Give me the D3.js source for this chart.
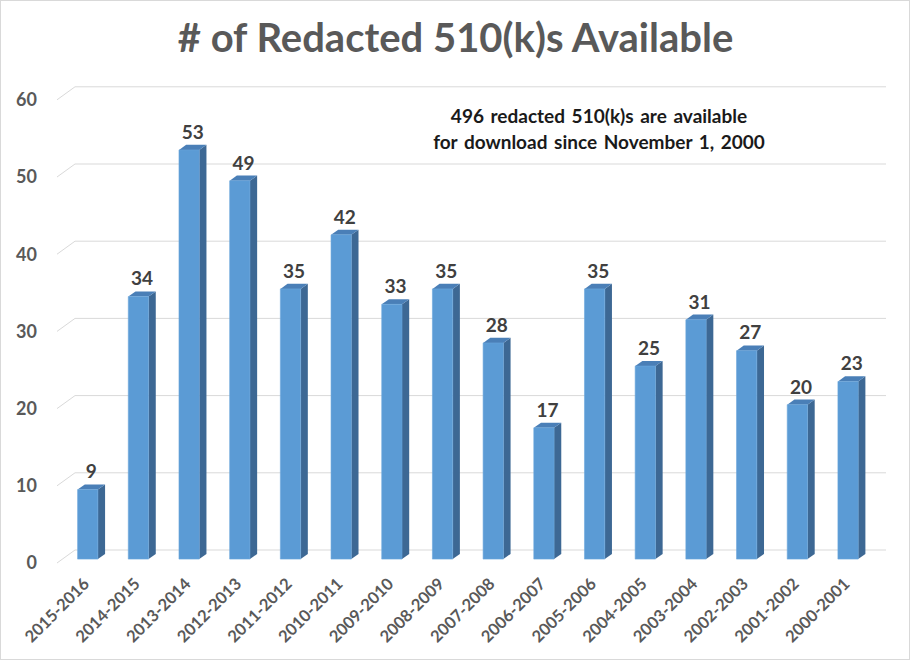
<!DOCTYPE html>
<html>
<head>
<meta charset="utf-8">
<script src="https://cdn.jsdelivr.net/npm/d3@7"></script>
<style>
  body { margin: 0; background: #fff; }
  text { font-family: Lato, 'Open Sans', sans-serif; font-weight: bold; }
</style>
</head>
<body>
<div id="chart"></div>
<script>
const categories = ['2015-2016', '2014-2015', '2013-2014', '2012-2013', '2011-2012', '2010-2011',
  '2009-2010', '2008-2009', '2007-2008', '2006-2007', '2005-2006', '2004-2005',
  '2003-2004', '2002-2003', '2001-2002', '2000-2001']
const counts = [9, 34, 53, 49, 35, 42, 33, 35, 28, 17, 35, 25, 31, 27, 20, 23]
const yTicks = [0, 10, 20, 30, 40, 50, 60]
const title = '# of Redacted 510(k)s Available'
const note = ['496 redacted 510(k)s are available', 'for download since November 1, 2000']

const width = 911
const height = 661
// depth of the 3d box (front floor -> back wall)
const depth = { dx: 18, dy: -13 }
const barFront = 0.3
const barBack = 0.7

const svg = d3.select('#chart').append('svg')
  .attr('width', width)
  .attr('height', height)

svg.append('rect')
  .attr('x', 0.5).attr('y', 0.5)
  .attr('width', width - 2).attr('height', height - 2)
  .attr('fill', '#fff')
  .attr('stroke', '#d9d9d9')

const x = d3.scaleBand()
  .domain(categories)
  .range([57, 868])
  .paddingInner(0.6)
  .paddingOuter(0.3)

const y = d3.scaleLinear()
  .domain([0, 60])
  .range([563, 99.8])

const shift = (px, py, t) => [px + depth.dx * t, py + depth.dy * t]

// back wall gridlines with the little slanted side wall segment
const grid = svg.append('g')
  .attr('stroke', '#d9d9d9')
  .attr('fill', 'none')
yTicks.forEach(t => {
  const [bx, by] = shift(x.range()[0], y(t), 1)
  grid.append('path')
    .attr('d', `M${x.range()[0]},${y(t)}L${bx},${by}L${x.range()[1] + depth.dx},${by}`)
})

svg.append('g')
  .selectAll('text')
  .data(yTicks).enter()
  .append('text')
  .attr('x', 37)
  .attr('y', d => y(d))
  .attr('dy', '0.36em')
  .attr('text-anchor', 'end')
  .attr('font-size', 18)
  .attr('fill', '#595959')
  .text(d => d)

const line = pts => 'M' + pts.map(p => p.join(',')).join('L') + 'Z'

const bar = svg.append('g')
  .selectAll('g')
  .data(categories.map((c, i) => ({ c, v: counts[i] }))).enter()
  .append('g')

bar.each(function (d) {
  const g = d3.select(this)
  const x0 = x(d.c)
  const x1 = x0 + x.bandwidth()
  const yt = y(d.v)
  const yb = y(0)
  const f = (px, py) => shift(px, py, barFront)
  const b = (px, py) => shift(px, py, barBack)
  g.append('path')
    .attr('d', line([f(x1, yb), b(x1, yb), b(x1, yt), f(x1, yt)]))
    .attr('fill', '#3d6894')
  g.append('path')
    .attr('d', line([f(x0, yt), f(x1, yt), b(x1, yt), b(x0, yt)]))
    .attr('fill', '#4a7fb7')
  g.append('path')
    .attr('d', line([f(x0, yb), f(x1, yb), f(x1, yt), f(x0, yt)]))
    .attr('fill', '#5b9bd5')
    .attr('stroke', '#6aa6dc')
    .attr('stroke-width', 0.6)
})

bar.append('text')
  .attr('x', d => x(d.c) + x.bandwidth() / 2 + depth.dx * 0.5)
  .attr('y', d => y(d.v) + depth.dy * barBack - 6)
  .attr('text-anchor', 'middle')
  .attr('font-size', 19)
  .attr('fill', '#404040')
  .text(d => d.v)

svg.append('g')
  .selectAll('text')
  .data(categories).enter()
  .append('text')
  .attr('transform', d => `translate(${x(d) + x.bandwidth() / 2 + depth.dx * 0.5 - 1},${y(0) + 22}) rotate(-45)`)
  .attr('text-anchor', 'end')
  .attr('font-size', 16.5)
  .attr('fill', '#595959')
  .text(d => d)

svg.append('text')
  .attr('x', width / 2)
  .attr('y', 52)
  .attr('text-anchor', 'middle')
  .attr('font-size', 40)
  .attr('fill', '#595959')
  .text(title)

svg.append('g')
  .selectAll('text')
  .data(note).enter()
  .append('text')
  .attr('x', 599)
  .attr('y', (d, i) => 123 + i * 26)
  .attr('text-anchor', 'middle')
  .attr('font-size', 19)
  .attr('word-spacing', 2)
  .attr('fill', '#1a1a1a')
  .text(d => d)
</script>
</body>
</html>
